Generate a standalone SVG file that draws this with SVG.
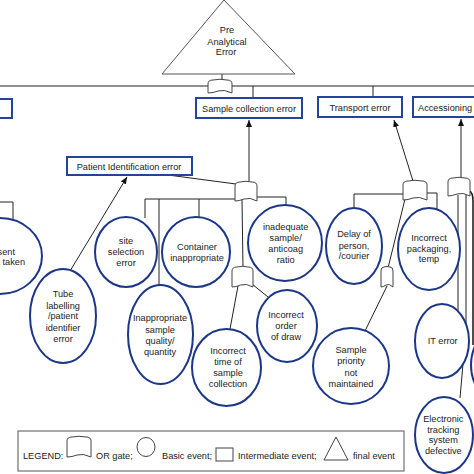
<svg xmlns="http://www.w3.org/2000/svg" width="474" height="474" viewBox="0 0 474 474">
<style>
.box{fill:#fff;stroke:#22449c;stroke-width:2}
.ev{fill:#fff;stroke:#1c3688;stroke-width:2}
.gate{fill:#fff;stroke:#444;stroke-width:1}
.ln{fill:none;stroke:#222;stroke-width:1}
.tri{fill:#fff;stroke:#555;stroke-width:1}
.t{font-family:"Liberation Sans",Arial,sans-serif;font-size:9.2px;fill:#222;text-anchor:middle}
.ts{font-family:"Liberation Sans",Arial,sans-serif;font-size:9.2px;fill:#222}
</style>
<defs>
<marker id="ah" markerUnits="userSpaceOnUse" markerWidth="8" markerHeight="7" refX="7" refY="3" orient="auto">
<path d="M0,0 L7,3 L0,6 z" fill="#111"/>
</marker>
</defs>
<rect width="474" height="474" fill="#fff"/>

<g id="connectors">
<line class="ln" x1="0" y1="86" x2="474" y2="86"/>
<line class="ln" x1="222" y1="74" x2="222" y2="80"/>
<line class="ln" x1="253" y1="86" x2="253" y2="98"/>
<line class="ln" x1="373" y1="86" x2="373" y2="97"/>
<line class="ln" x1="249" y1="182" x2="249" y2="120" marker-end="url(#ah)"/>
<line class="ln" x1="413" y1="181" x2="394" y2="120" marker-end="url(#ah)"/>
<line class="ln" x1="461" y1="178" x2="461" y2="119" marker-end="url(#ah)"/>
<line class="ln" x1="70" y1="271" x2="127" y2="177" marker-end="url(#ah)"/>
<polyline class="ln" points="0,202 13,202 13,219"/>
<line class="ln" x1="168" y1="175" x2="236" y2="184"/>
<polyline class="ln" points="145,218 145,199 236,199"/>
<line class="ln" x1="159" y1="199" x2="159" y2="285"/>
<line class="ln" x1="199" y1="199" x2="199" y2="217"/>
<polyline class="ln" points="256,197 286,197 286,205"/>
<line class="ln" x1="242" y1="200" x2="243" y2="268"/>
<line class="ln" x1="238" y1="286" x2="230" y2="329"/>
<line class="ln" x1="252" y1="284" x2="268" y2="297"/>
<polyline class="ln" points="354,208 354,194 404,194"/>
<polyline class="ln" points="426,193 437,193 437,209"/>
<line class="ln" x1="405" y1="199" x2="388" y2="268"/>
<line class="ln" x1="387" y1="286" x2="365" y2="331"/>
<line class="ln" x1="458" y1="195" x2="458" y2="314"/>
<polyline class="ln" points="466,195 466,330 460,398"/>
<path class="ln" d="M469,191 Q473,192 473,201 L473,345" style="stroke-width:1.6"/>
</g>

<g id="top-event">
<polygon class="tri" points="224,0 162,74 295,74"/>
<text class="t" x="227" y="32.6">Pre</text>
<text class="t" x="227" y="45">Analytical</text>
<text class="t" x="226" y="55">Error</text>
</g>

<g id="gate-top"><path class="gate" transform="translate(208,80)" d="M0,13 L0,4 Q0,0 5,0 Q12,-1.5 19,0 Q24,0 24,4 L24,13 Q16,9 10,11 Q5,13 0,13 Z"/></g>

<g id="box-left"><rect class="box" x="-60" y="99" width="72" height="19"/></g>
<g id="box-sample-collection"><rect class="box" x="196" y="98" width="106" height="20"/>
<text class="t" x="249" y="111.5">Sample collection error</text></g>
<g id="box-transport"><rect class="box" x="318" y="97" width="84" height="20"/>
<text class="t" x="360" y="110.5">Transport error</text></g>
<g id="box-accessioning"><rect class="box" x="413" y="97" width="80" height="20"/>
<text class="ts" x="418" y="110.5">Accessioning</text></g>
<g id="box-patient-id"><rect class="box" x="67" y="157" width="125" height="18"/>
<text class="t" x="129" y="169.5">Patient Identification error</text></g>

<g id="gate-sample"><path class="gate" transform="translate(235,182)" d="M0,19 L0,4 Q0,0 5,0 Q11,-1.5 17,0 Q22,0 22,4 L22,19 Q15,15 9,17 Q4,19 0,19 Z"/></g>
<g id="gate-sample-2"><path class="gate" transform="translate(232,267)" d="M0,20 L0,4 Q0,0 5,0 Q10.5,-1.5 16,0 Q21,0 21,4 L21,20 Q14,16 8.5,18 Q4,20 0,20 Z"/></g>
<g id="gate-transport"><path class="gate" transform="translate(403,181)" d="M0,19 L0,4 Q0,0 5,0 Q12,-1.5 19,0 Q24,0 24,4 L24,19 Q16,15 10,17 Q5,19 0,19 Z"/></g>
<g id="gate-transport-2"><path class="gate" transform="translate(381,267)" d="M0,20 L0,4 Q0,0 3,0 Q6,-1 9,0 Q12,0 12,4 L12,20 Q8,16 5,18 Q2,20 0,20 Z"/></g>
<g id="gate-accessioning"><path class="gate" transform="translate(448,178)" d="M0,18 L0,4 Q0,0 5,0 Q11,-1.5 17,0 Q22,0 22,4 L22,18 Q15,14 9,16 Q4,18 0,18 Z"/></g>

<g id="ev-consent"><ellipse class="ev" cx="0" cy="256" rx="42" ry="38"/>
<text class="t" x="15" y="255" style="text-anchor:end">Consent</text>
<text class="t" x="25" y="265" style="text-anchor:end">not taken</text></g>

<g id="ev-site"><ellipse class="ev" cx="126" cy="252" rx="31" ry="35"/>
<text class="t" x="126" y="244">site</text>
<text class="t" x="126" y="255">selection</text>
<text class="t" x="126" y="266">error</text></g>

<g id="ev-container"><ellipse class="ev" cx="196" cy="252" rx="34" ry="35"/>
<text class="t" x="197" y="250">Container</text>
<text class="t" x="197" y="260.6">inappropriate</text></g>

<g id="ev-tube"><ellipse class="ev" cx="63" cy="316" rx="33" ry="47"/>
<text class="t" x="63" y="297.3">Tube</text>
<text class="t" x="63" y="308.6">labelling</text>
<text class="t" x="63" y="319.3">/patient</text>
<text class="t" x="63" y="331">identifier</text>
<text class="t" x="63" y="342.3">error</text></g>

<g id="ev-inappropriate"><ellipse class="ev" cx="160.5" cy="334.5" rx="32.5" ry="49.5"/>
<text class="t" x="160" y="321">Inappropriate</text>
<text class="t" x="160" y="332.6">sample</text>
<text class="t" x="160" y="343.6">quality/</text>
<text class="t" x="160" y="355">quantity</text></g>

<g id="ev-time"><ellipse class="ev" cx="226.5" cy="367.5" rx="34.5" ry="38.5"/>
<text class="t" x="228" y="354">Incorrect</text>
<text class="t" x="228" y="365">time of</text>
<text class="t" x="228" y="376">sample</text>
<text class="t" x="228" y="386.6">collection</text></g>

<g id="ev-order"><ellipse class="ev" cx="287" cy="326" rx="30" ry="36"/>
<text class="t" x="286" y="318.3">Incorrect</text>
<text class="t" x="286" y="329.3">order</text>
<text class="t" x="286" y="340">of draw</text></g>

<g id="ev-inadequate"><ellipse class="ev" cx="285" cy="243" rx="37" ry="38"/>
<text class="t" x="285.7" y="230">inadequate</text>
<text class="t" x="285.7" y="240.6">sample/</text>
<text class="t" x="285.7" y="252.3">anticoag</text>
<text class="t" x="285.7" y="262.6">ratio</text></g>

<g id="ev-delay"><ellipse class="ev" cx="354" cy="246" rx="28" ry="38"/>
<text class="t" x="354" y="237.3">Delay of</text>
<text class="t" x="354" y="249">person,</text>
<text class="t" x="354" y="259.3">/courier</text></g>

<g id="ev-packaging"><ellipse class="ev" cx="429" cy="249" rx="31" ry="41"/>
<text class="t" x="429" y="240.6">Incorrect</text>
<text class="t" x="429" y="251.6">packaging,</text>
<text class="t" x="429" y="262.3">temp</text></g>

<g id="ev-priority"><ellipse class="ev" cx="351" cy="366" rx="38" ry="38"/>
<text class="t" x="351" y="353.3">Sample</text>
<text class="t" x="351" y="364.3">priority</text>
<text class="t" x="351" y="375.6">not</text>
<text class="t" x="351" y="386.6">maintained</text></g>

<g id="ev-it"><ellipse class="ev" cx="442" cy="341" rx="27" ry="37"/>
<text class="t" x="442.7" y="344">IT error</text></g>

<g id="ev-electronic"><ellipse class="ev" cx="444" cy="435" rx="29" ry="38"/>
<text class="t" x="443.3" y="421.6">Electronic</text>
<text class="t" x="443.3" y="432.6">tracking</text>
<text class="t" x="443.3" y="443.3">system</text>
<text class="t" x="443.3" y="454.3">defective</text></g>

<g id="ev-right"><ellipse class="ev" cx="506" cy="365" rx="35" ry="40"/></g>

<g id="legend">
<rect x="18" y="431" width="386" height="40" fill="#fff" stroke="#555" stroke-width="1"/>
<text class="ts" x="23" y="458.5">LEGEND:</text>
<path class="gate" transform="translate(67,437)" d="M0,20 L0,4 Q0,0 5,0 Q12,-1.5 19,0 Q24,0 24,4 L24,20 Q16,16 10,18 Q5,20 0,20 Z"/>
<text class="ts" x="96" y="458.5">OR gate;</text>
<ellipse cx="146" cy="447" rx="9" ry="9.5" fill="#fff" stroke="#444" stroke-width="1"/>
<text class="ts" x="162" y="458.5">Basic event;</text>
<rect x="216" y="448" width="17" height="13" fill="#fff" stroke="#444" stroke-width="1"/>
<text class="ts" x="238" y="458.5">Intermediate event;</text>
<polygon points="336,437 324,460 348,460" fill="#fff" stroke="#444" stroke-width="1"/>
<text class="ts" x="353" y="458.5">final event</text>
</g>
</svg>
